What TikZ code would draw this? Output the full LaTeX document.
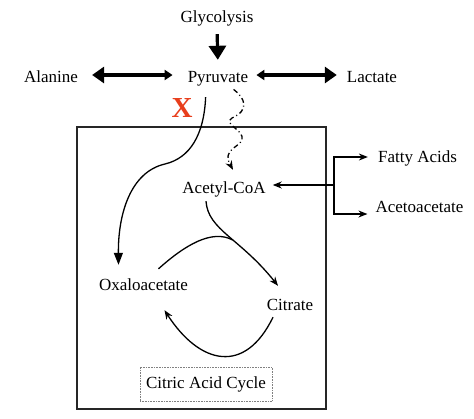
\documentclass[tikz,border=0pt]{standalone}
\usepackage{fontspec}
\setmainfont{Liberation Serif}
\usetikzlibrary{arrows.meta,calc}
\definecolor{xred}{RGB}{232,62,28}

\begin{document}
\begin{tikzpicture}[x=1pt,y=-1pt,
    label/.style={inner sep=2pt,text height=12pt,text depth=4pt,font=\fontsize{17}{20}\selectfont},
    bigarrow/.style={line width=3.2pt},
    flow/.style={line width=1.3pt,-{Stealth[length=9pt,width=7pt]}}]
    \useasboundingbox (0,0) rectangle (474,418);

      % Cytosol
      \node[label] (glyc) at (217,18) {Glycolysis};
      \node[label] (pyr) at (218,78) {Pyruvate};
      \node[label] (ala) at (51,78) {Alanine};
      \node[label] (lac) at (372,78) {Lactate};
      \node[text=xred,inner sep=0pt,font=\fontsize{29}{30}\selectfont\bfseries] (block) at (182,108) {X};

      \draw[bigarrow,-{Triangle[length=14pt,width=17pt]},shorten <=6pt,shorten >=8pt] (glyc.south) -- (pyr.north);
      \draw[bigarrow,{Triangle[length=12pt,width=16pt]}-{Triangle[length=8pt,width=10pt]},shorten <=12pt,shorten >=13pt]
        ([yshift=3pt]ala.east) -- ([yshift=3pt]pyr.west);
      \draw[bigarrow,{Triangle[length=8pt,width=10pt]}-{Triangle[length=12pt,width=16pt]},shorten <=6pt,shorten >=8pt]
        ([yshift=3pt]pyr.east) -- ([yshift=3pt]lac.west);

      % Mitochondrion
      \draw[line width=1.8pt,black!85] (77,127) rectangle (326,409);

      \node[label] (acoa) at (224,189) {Acetyl-CoA};
      \node[label] (oxa) at (143.5,286) {Oxaloacetate};
      \node[label] (cit) at (290,306) {Citrate};
      \node[label,draw=gray,densely dotted,line width=0.6pt,inner xsep=6pt,inner ysep=9pt] (cac) at (206,384) {Citric Acid Cycle};

      % Pyruvate into the cycle
      \draw[line width=1.3pt,-{Triangle[length=12pt,width=9pt]},shorten <=9pt]
        ([xshift=-12pt]pyr.south) .. controls (204,135) and (190,158) .. (165,164)
        .. controls (130,172) and (118,215) .. ([xshift=-25pt,yshift=11pt]oxa.north);
      \draw[flow,dash pattern=on 5pt off 3pt on 1pt off 3pt,shorten <=2pt]
        ([xshift=14pt]pyr.south) .. controls (245,98) and (250,110) .. (232,118)
        .. controls (222,124) and (245,130) .. (242,140)
        .. controls (238,148) and (222,150) .. ([xshift=9pt,yshift=9pt]acoa.north);

      % Cycle
      \draw[flow] ([xshift=-18pt,yshift=-2pt]acoa.south) .. controls (208,230) and (240,238) ..
        coordinate[pos=0.55] (join) ([xshift=-12pt,yshift=10pt]cit.north);
      \draw[line width=1.3pt] ([xshift=15pt,yshift=7pt]oxa.north) .. controls (185,245) and (212,229) .. (join);
      \draw[flow] ([xshift=-17pt,yshift=-1pt]cit.south) .. controls (245,375) and (200,365) ..
        ([xshift=21pt,yshift=-14pt]oxa.south);

      % Fatty acids and ketones
      \node[label] (fatty) at (417.5,158) {Fatty Acids};
      \node[label] (aceto) at (419.5,208) {Acetoacetate};
      \coordinate (fork) at (334,185);
      \draw[flow,shorten >=5pt] (fork) -- ([yshift=4pt]acoa.east);
      \draw[flow,shorten >=8pt] (fork) |- ([yshift=1pt]fatty.west);
      \draw[flow,shorten >=6pt] (fork) |- ([yshift=-6pt]aceto.west);
  \end{tikzpicture}
\end{document}
